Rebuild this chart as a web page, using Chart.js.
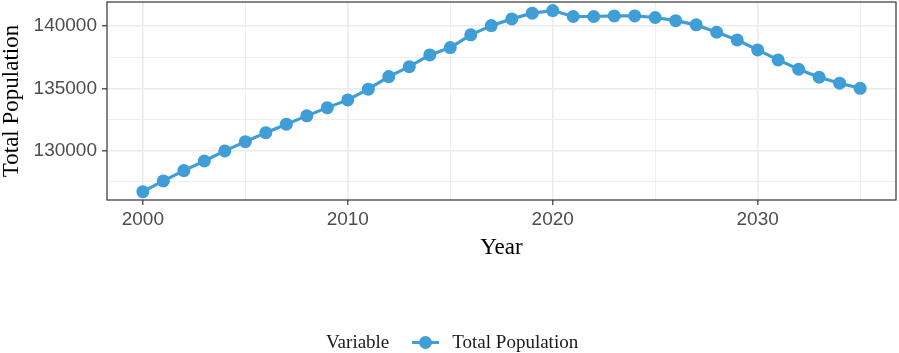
<!DOCTYPE html>
<html>
<head>
<meta charset="utf-8">
<script src="https://cdn.jsdelivr.net/npm/chart.js@4"></script>
<style>
  body { margin: 0; background: #fff; }
  #wrap { position: relative; width: 899px; height: 353px; }
  #legend {
    position: absolute; left: 326px; top: 330px; height: 24px;
    display: flex; align-items: center;
    font-family: 'Liberation Serif', 'Times New Roman', serif; font-size: 19px; color: #1a1a1a;
  }
  #legend .key { position: relative; width: 27px; height: 13px; margin: 0 13px 0 23px; }
  #legend .key .ln { position: absolute; left: 0; right: 0; top: 5px; height: 3px; background: #3f9dd7; }
  #legend .key .pt { position: absolute; left: 7px; top: 0; width: 13px; height: 13px; border-radius: 50%; background: #3f9dd7; }
</style>
</head>
<body>
<div id="wrap">
  <canvas id="popPlot" width="899" height="353"></canvas>
  <div id="legend"><span>Variable</span><span class="key"><span class="ln"></span><span class="pt"></span></span><span>Total Population</span></div>
</div>
<script>
// values
const years = [2000, 2001, 2002, 2003, 2004, 2005, 2006, 2007, 2008, 2009,
               2010, 2011, 2012, 2013, 2014, 2015, 2016, 2017, 2018, 2019,
               2020, 2021, 2022, 2023, 2024, 2025, 2026, 2027, 2028, 2029,
               2030, 2031, 2032, 2033, 2034, 2035];
const totalPopulation = [126710, 127570, 128400, 129170, 129980, 130720, 131440, 132120, 132790, 133450,
                         134070, 134930, 135940, 136740, 137680, 138270, 139290, 140030, 140570, 141030,
                         141240, 140760, 140760, 140810, 140810, 140680, 140430, 140090, 139500, 138880,
                         138080, 137280, 136530, 135890, 135410, 135000];
const xTicks = [2000, 2005, 2010, 2015, 2020, 2025, 2030, 2035];
const yTicks = [127500, 130000, 132500, 135000, 137500, 140000];

const lineColour = '#3f9dd7';
const tickFont = { family: "'Liberation Sans', Arial, sans-serif", size: 19 };
const titleFont = { family: "'Liberation Serif', 'Times New Roman', serif", size: 23, lineHeight: 1 };

// ggplot style: major lines on labelled ticks, thinner minor lines between
const isMajorX = v => v % 10 === 0;
const isMajorY = v => v % 5000 === 0;

// panel border round the plot area
const panelBorder = {
    id: 'panelBorder',
    afterDraw(chart) {
        const { ctx, chartArea: a } = chart;
        ctx.save();
        ctx.strokeStyle = '#333333';
        ctx.lineWidth = 1.2;
        ctx.strokeRect(a.left, a.top, a.right - a.left, a.bottom - a.top);
        ctx.restore();
    }
};

const popCtx = document.getElementById('popPlot').getContext('2d');
new Chart(popCtx, {
    type: 'line',
    data: {
        datasets: [{
            label: 'Total Population',
            data: years.map((year, i) => ({ x: year, y: totalPopulation[i] })),
            borderColor: lineColour,
            backgroundColor: lineColour,
            borderWidth: 3.2,
            pointRadius: 6.5,
            pointBorderWidth: 0,
            pointBackgroundColor: lineColour,
            tension: 0,
            fill: false,
        }],
    },
    options: {
        responsive: false,
        animation: false,
        layout: { autoPadding: false, padding: { top: 2, right: 3, bottom: 94, left: 0 } },
        scales: {
            x: {
                type: 'linear',
                min: 1998.25,
                max: 2036.75,
                afterBuildTicks: scale => { scale.ticks = xTicks.map(v => ({ value: v })); },
                afterFit: scale => {
                    scale.height = 59;
                    // labels never touch the ends, so no extra room is needed
                    scale.paddingLeft = 0;
                    scale.paddingRight = 0;
                },
                ticks: {
                    font: tickFont,
                    color: '#4d4d4d',
                    padding: 3,
                    maxRotation: 0,
                    callback: v => (isMajorX(v) ? String(v) : ''),
                },
                grid: {
                    color: '#ebebeb',
                    lineWidth: ctx => (ctx.tick && isMajorX(ctx.tick.value) ? 1.6 : 0.8),
                    tickColor: ctx => (ctx.tick && isMajorX(ctx.tick.value) ? '#333333' : 'rgba(0,0,0,0)'),
                    tickLength: 5,
                    tickWidth: 1.2,
                },
                border: { display: false },
                title: { display: true, text: 'Year', font: titleFont, color: '#000', padding: 0 },
            },
            y: {
                min: 126040,
                max: 141925,
                afterBuildTicks: scale => { scale.ticks = yTicks.map(v => ({ value: v })); },
                afterFit: scale => {
                    scale.width = 107;
                    scale.paddingTop = 0;
                    scale.paddingBottom = 0;
                },
                ticks: {
                    font: tickFont,
                    color: '#4d4d4d',
                    padding: 5,
                    callback: v => (isMajorY(v) ? String(v) : ''),
                },
                grid: {
                    color: '#ebebeb',
                    lineWidth: ctx => (ctx.tick && isMajorY(ctx.tick.value) ? 1.6 : 0.8),
                    tickColor: ctx => (ctx.tick && isMajorY(ctx.tick.value) ? '#333333' : 'rgba(0,0,0,0)'),
                    tickLength: 5,
                    tickWidth: 1.2,
                },
                border: { display: false },
                title: { display: true, text: 'Total Population', font: titleFont, color: '#000', padding: 0 },
            },
        },
        plugins: {
            legend: { display: false },
            tooltip: { enabled: false },
        },
    },
    plugins: [panelBorder],
});
</script>
</body>
</html>
